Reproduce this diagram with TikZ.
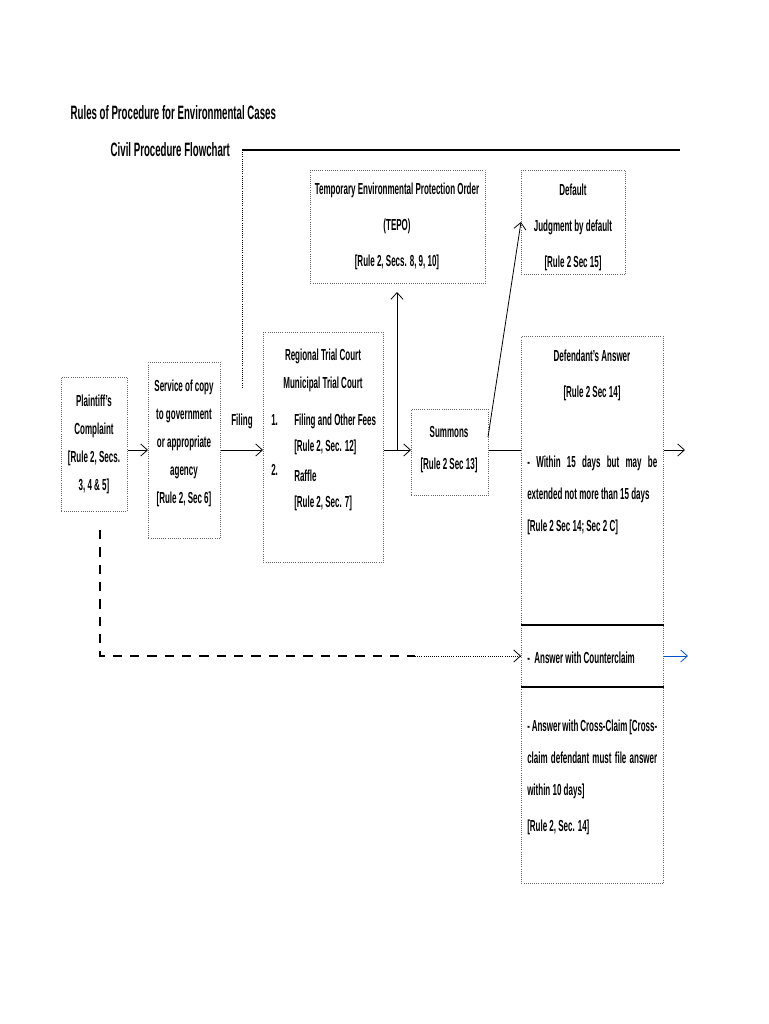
\documentclass[tikz,border=0pt]{standalone}
\usepackage{fontspec}
\setmainfont[FakeStretch=0.5]{Liberation Sans}
\usetikzlibrary{arrows.meta}
\begin{document}
\hyphenpenalty=10000
\begin{tikzpicture}[x=0.75pt,y=-0.75pt,
  box/.style={draw=gray!80!black,densely dotted,line width=0.6pt,anchor=north west,inner sep=0pt},
  txt/.style={font=\fontsize{12}{21}\selectfont\bfseries,align=center,inner sep=0pt},
  arr/.style={-{Straight Barb[length=5pt,width=9pt]},line width=0.6pt},
  ln/.style={line width=0.6pt}]
\useasboundingbox (0,0) rectangle (768,1024);
\node[anchor=west,font=\fontsize{14.5}{18}\selectfont\bfseries] (t1) at (66,113) {Rules of Procedure for Environmental Cases};
\node[anchor=west,font=\fontsize{14.5}{18}\selectfont\bfseries] (t2) at (106,150) {Civil Procedure Flowchart};
% boxes
\node[box,minimum width=66*0.75pt,minimum height=134*0.75pt] (pc) at (61,377) {};
\node[txt] at (94,444) {Plaintiff’s\\Complaint\\{[}Rule 2, Secs.\\3, 4 \& 5{]}};
\node[box,minimum width=72*0.75pt,minimum height=176*0.75pt] (sv) at (148,362) {};
\node[txt] at (184,443) {Service of copy\\to government\\or appropriate\\agency\\{[}Rule 2, Sec 6{]}};
\node[box,minimum width=120*0.75pt,minimum height=230*0.75pt] (rtc) at (263,332) {};
\node[txt] at (323,370) {Regional Trial Court\\Municipal Trial Court};
\node[txt,anchor=north west,align=left] at (271,414) {1.\\[-4pt] \\2.};
\node[txt,anchor=north west,align=left,font=\fontsize{12}{19}\selectfont\bfseries] at (294,414) {Filing and Other Fees\\{[}Rule 2, Sec. 12{]}\\[4pt]Raffle\\{[}Rule 2, Sec. 7{]}};
\node[box,minimum width=175*0.75pt,minimum height=113*0.75pt] (tepo) at (310,170) {};
\node[txt,font=\fontsize{12}{27}\selectfont\bfseries] at (397,226) {Temporary Environmental Protection Order\\(TEPO)\\{[}Rule 2, Secs. 8, 9, 10{]}};
\node[box,minimum width=77*0.75pt,minimum height=86*0.75pt] (sm) at (411,409) {};
\node[txt,font=\fontsize{12}{24}\selectfont\bfseries] at (449,450) {Summons\\{[}Rule 2 Sec 13{]}};
\node[box,minimum width=104*0.75pt,minimum height=104*0.75pt] (df) at (521,170) {};
\node[txt,font=\fontsize{12}{27}\selectfont\bfseries] at (573,227) {Default\\Judgment by default\\{[}Rule 2 Sec 15{]}};
\node[box,minimum width=142*0.75pt,minimum height=547*0.75pt] (da) at (521,336) {};
\node[txt,font=\fontsize{12}{27}\selectfont\bfseries] at (592,375) {Defendant’s Answer\\{[}Rule 2 Sec 14{]}};
\node[txt,anchor=north west,text width=130*0.75pt,align=justify,font=\fontsize{12}{24}\selectfont\bfseries] at (527,456) {- Within 15 days but may be extended not more than 15 days\\{[}Rule 2 Sec 14; Sec 2 C{]}};
\node[txt,anchor=west] (cc) at (527,658) {-\ \ Answer with Counterclaim};
\node[txt,anchor=north west,text width=130*0.75pt,align=justify,font=\fontsize{12}{24}\selectfont\bfseries] at (527,720) {- Answer with Cross-Claim [Cross-claim defendant must file answer within 10 days]\\[3pt]{[}Rule 2, Sec. 14{]}};
\draw[line width=1pt] (da.west |- 0,625) -- (da.east |- 0,625);
\draw[line width=1pt] (da.west |- 0,687) -- (da.east |- 0,687);
% connectors
\draw[line width=1pt] (242,150) -- (680,150);
\draw[densely dotted,ln] (242,150) -- (242,388);
\node[txt] (fl) at (242,421) {Filing};
\draw[arr] (pc.east |- 0,450) -- (sv.west |- 0,450);
\draw[arr] (sv.east |- 0,450) -- (rtc.west |- 0,450);
\draw[arr] (rtc.east |- 0,450) -- (sm.west |- 0,450);
\draw[arr] (397,450) -- (397,292);
\draw[arr] (488,437) -- (521,222);
\draw[ln] (sm.east |- 0,450) -- (da.west |- 0,450);
\draw[arr] (da.east |- 0,450) -- (685,450);
\draw[arr,blue!60!cyan!80!black] (da.east |- 0,656) -- (688,656);
\draw[line width=1.2pt,dash pattern=on 7pt off 6pt] (100,530) -- (100,656) -- (415,656);
\draw[arr,densely dotted] (415,656) -- (da.west |- 0,656);
\end{tikzpicture}
\end{document}
